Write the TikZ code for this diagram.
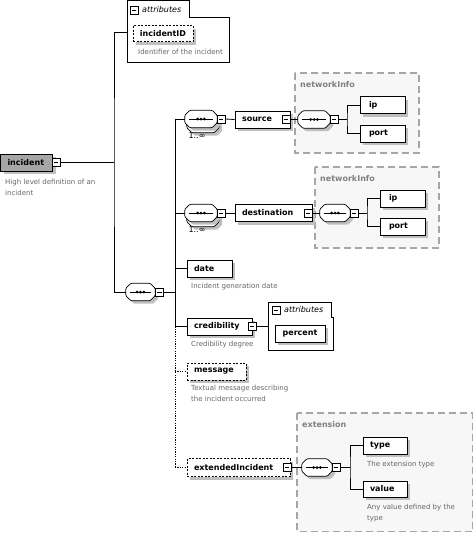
\documentclass[tikz,border=0pt]{standalone}
\usepackage{fontspec}
\setmainfont{DejaVu Sans}
\usetikzlibrary{shadows}
\newcommand{\seqoct}[2][]{%
  \draw[seqdraw,#1] ([xshift=5pt]#2.north west) -- ([xshift=-5pt]#2.north east) -- ([yshift=-5pt]#2.north east)
    -- ([yshift=5pt]#2.south east) -- ([xshift=-5pt]#2.south east) -- ([xshift=5pt]#2.south west)
    -- ([yshift=5pt]#2.south west) -- ([yshift=-5pt]#2.north west) -- cycle;}
\newcommand{\seqdots}[1]{%
  \draw[line width=0.8pt] ([xshift=4pt]#1.west) -- ([xshift=-4pt]#1.east);
  \foreach \d in {-3.4,0,3.4} \fill ([xshift=\d pt]#1.center) circle (1.5pt);}
\begin{document}
\begin{tikzpicture}[x=1pt,y=-1pt,
  shd/.style={drop shadow={shadow xshift=3pt,shadow yshift=-3pt,fill=black!25,opacity=1}},
  elem/.style={draw=black,line width=0.9pt,fill=white,minimum height=17pt,inner xsep=7pt,inner ysep=0pt,
    align=left,text width=#1,font=\fontsize{8}{9}\selectfont\bfseries,shd},
  optelem/.style={elem=#1,dash pattern=on 2pt off 1.5pt},
  minusbox/.style={draw=black,line width=0.6pt,fill=white,minimum size=8pt,inner sep=0pt,
    path picture={\draw[line width=0.6pt] ([xshift=1.8pt]path picture bounding box.west) -- ([xshift=-1.8pt]path picture bounding box.east);}},
  seq/.style={minimum width=#1,minimum height=17pt,inner sep=0pt},
  seqdraw/.style={draw=black,line width=0.7pt,fill=white,rounded corners=1pt,shd},
  cont/.style={draw=black!35,line width=1.1pt,dash pattern=on 7pt off 4pt,fill=black!3},
  contlabel/.style={anchor=west,inner sep=0pt,font=\fontsize{8}{9}\selectfont\bfseries,text=black!50},
  attrbox/.style={draw=black,line width=0.7pt,fill=white},
  attrlab/.style={anchor=west,inner sep=0pt,font=\fontsize{8}{9}\selectfont\itshape},
  desc/.style={anchor=north west,inner sep=0pt,align=left,font=\fontsize{7}{10.5}\selectfont,text=black!60},
  mult/.style={inner sep=0pt,font=\fontsize{8}{9}\selectfont},
  conn/.style={draw=black,line width=0.8pt},
  dotconn/.style={draw=black,line width=0.8pt,dash pattern=on 1.2pt off 1.2pt}
]
\useasboundingbox (0,0) rectangle (474,533);

% containers
\draw[cont] (295,73) rectangle (419,153);
\node[contlabel] (ni1lab) at (300,85) {networkInfo};
\draw[cont] (315,167) rectangle (439,248);
\node[contlabel] (ni2lab) at (320,179) {networkInfo};
\draw[cont] (297,413) rectangle (472.5,531.5);
\node[contlabel] (extlab) at (302,425) {extension};

% top attributes
\draw[attrbox] (127,0.5) -- (189,0.5) -- (189,17) -- (229,17) -- (229,62) -- (127,62) -- cycle;
\node[minusbox] (attr1m) at (134,10) {};
\node[attrlab] (attr1lab) at (142,10) {attributes};
\coordinate (attr1L) at (127,32);
\node[optelem=48pt,align=center,inner xsep=6pt,minimum height=16pt] (incidentID) at (163,33.5) {incidentID};
\node[desc,anchor=west] (incidentIDd) at (138,52) {Identifier of the incident};

% incident
\node[elem=38pt,fill=black!35] (incident) at (26.5,162.5) {incident};
\node[minusbox] (incidentM) at (56,162.5) {};
\node[desc] (incidentd) at (5,179) {High level definition of an\\incident};

% main sequence
\node[seq=29pt] (seqMain) at (140.5,292) {};
\seqoct{seqMain}\seqdots{seqMain}
\node[minusbox] (seqMainM) at (159.5,292) {};

% source row
\node[seq=32pt] (srcRep) at (203,124) {};
\seqoct{srcRep}
\node[seq=32pt] (srcSeq) at (201,119) {};
\seqoct{srcSeq}\seqdots{srcSeq}
\node[minusbox] (srcSeqM) at (221,119) {};
\node[mult] (srcMult) at (197,136) {1..∞};
\node[elem=41pt] (source) at (262.5,119.5) {source};
\node[minusbox] (sourceM) at (286,119.5) {};
\node[seq=32pt] (ni1Seq) at (314,119.5) {};
\seqoct{ni1Seq}\seqdots{ni1Seq}
\node[minusbox] (ni1SeqM) at (334,119.5) {};
\node[elem=27pt,inner xsep=9pt] (ip1) at (382.5,105) {ip};
\node[elem=27pt,inner xsep=9pt] (port1) at (382.5,133.5) {port};
\coordinate (br1) at (347,119.5);

% destination row
\node[seq=32pt] (dstRep) at (203,218) {};
\seqoct{dstRep}
\node[seq=32pt] (dstSeq) at (201,213) {};
\seqoct{dstSeq}\seqdots{dstSeq}
\node[minusbox] (dstSeqM) at (221,213) {};
\node[mult] (dstMult) at (197,230) {1..∞};
\node[elem=63pt] (destination) at (273.5,213) {destination};
\node[minusbox] (destinationM) at (308,213) {};
\node[seq=30pt] (ni2Seq) at (335,213) {};
\seqoct{ni2Seq}\seqdots{ni2Seq}
\node[minusbox] (ni2SeqM) at (354,213) {};
\node[elem=27pt,inner xsep=9pt] (ip2) at (402.5,198.5) {ip};
\node[elem=27pt,inner xsep=9pt] (port2) at (402.5,226.5) {port};
\coordinate (br2) at (367,213);

% date
\node[elem=31pt] (date) at (209.5,268.5) {date};
\node[desc,anchor=west] (dated) at (191,287) {Incident generation date};

% credibility
\node[elem=51pt] (credibility) at (219.5,326.5) {credibility};
\node[minusbox] (credibilityM) at (252,326.5) {};
\node[desc,anchor=west] (credibilityd) at (191,345) {Credibility degree};
\draw[attrbox] (268,302) -- (331,302) -- (331,317) -- (333,317) -- (333,350) -- (268,350) -- cycle;
\node[minusbox] (attr2m) at (276,310) {};
\node[attrlab] (attr2lab) at (284,310) {attributes};
\coordinate (attr2L) at (268,326.5);
\node[elem=40pt,align=center,inner xsep=5pt] (percent) at (300,333.5) {percent};

% message
\node[optelem=45pt] (message) at (216.5,371.5) {message};
\node[desc] (messaged) at (191,385) {Textual message describing\\the incident occurred};

% extendedIncident
\node[optelem=89pt,minimum height=18pt] (extendedIncident) at (238.5,467.5) {extendedIncident};
\node[minusbox] (extendedIncidentM) at (287,467.5) {};
\node[seq=30pt] (extSeq) at (317,467.5) {};
\seqoct{extSeq}\seqdots{extSeq}
\node[minusbox] (extSeqM) at (336,467.5) {};
\node[elem=30pt] (type) at (385,445.5) {type};
\node[desc,anchor=west] (typed) at (367,465) {The extension type};
\node[elem=30pt,minimum height=16pt] (value) at (385,489) {value};
\node[desc] (valued) at (367,504) {Any value defined by the\\type};
\coordinate (br3) at (350,467.5);

% trunks
\coordinate (trA) at (114,162.5);
\coordinate (trBtop) at (175,119);
\coordinate (trBmid) at (175,326.5);
\coordinate (trBbot) at (175,467.5);
\draw[conn] (incidentM.east) -- (trA);
\draw[conn] (attr1L) -| (trA) |- (seqMain.west);
\draw[conn] (seqMainM.east) -- (seqMainM.east -| trBtop);
\draw[conn] (srcSeq.west) -- (trBtop) -- (trBmid);
\draw[dotconn] (trBmid) -- (trBbot);
\draw[conn] (dstSeq.west -| trBtop) -- (dstSeq.west);
\draw[conn] (date.west -| trBtop) -- (date.west);
\draw[conn] (trBmid) -- (credibility.west);
\draw[dotconn] (message.west -| trBtop) -- (message.west);
\draw[dotconn] (trBbot) -- (extendedIncident.west);

% rows
\draw[conn] (srcSeqM.east) -- (source.west);
\draw[conn] (sourceM.east) -- (ni1Seq.west);
\draw[conn] (ni1SeqM.east) -- (br1);
\draw[conn] (ip1.west) -| (br1) |- (port1.west);
\draw[conn] (dstSeqM.east) -- (destination.west);
\draw[conn] (destinationM.east) -- (ni2Seq.west);
\draw[conn] (ni2SeqM.east) -- (br2);
\draw[conn] (ip2.west) -| (br2) |- (port2.west);
\draw[conn] (credibilityM.east) -- (attr2L);
\draw[conn] (extendedIncidentM.east) -- (extSeq.west);
\draw[conn] (extSeqM.east) -- (br3);
\draw[conn] (type.west) -| (br3) |- (value.west);
\end{tikzpicture}
\end{document}
